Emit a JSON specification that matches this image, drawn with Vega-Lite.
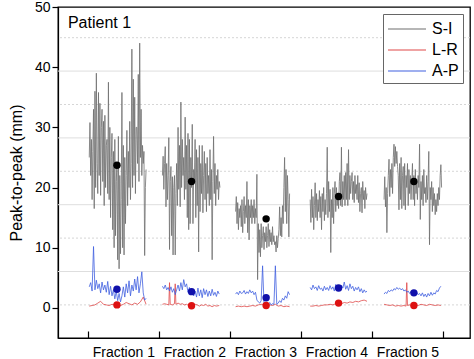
{
"$schema":"https://vega.github.io/schema/vega-lite/v6.json",
"width":412,"height":331,
"autosize":"none",
"padding":{"left":58,"top":7,"right":4,"bottom":21},
"config":{"view":{"stroke":"#000","strokeWidth":1.3},"font":"Liberation Sans",
"axis":{"domainColor":"#000","tickColor":"#000","labelColor":"#000","titleColor":"#000","grid":false,"domainWidth":1.2,"tickWidth":1.2}},
"datasets":{
"grid":[{"g":"d","y":0.5},{"g":"d","y":11.6},{"g":"d","y":22.7},{"g":"d","y":33.8},{"g":"d","y":44.9},{"g":"s","y":6.05},{"g":"s","y":17.15},{"g":"s","y":28.25},{"g":"s","y":39.35}],
"lines":[
{"k":"S-I","f":1,"x":52,"y":25},{"k":"S-I","f":1,"x":53,"y":30.8},{"k":"S-I","f":1,"x":54,"y":22},{"k":"S-I","f":1,"x":55,"y":28},{"k":"S-I","f":1,"x":56,"y":18},{"k":"S-I","f":1,"x":57,"y":26},
{"k":"S-I","f":1,"x":58,"y":33},{"k":"S-I","f":1,"x":59,"y":16.5},{"k":"S-I","f":1,"x":60,"y":36},{"k":"S-I","f":1,"x":61,"y":20},{"k":"S-I","f":1,"x":62,"y":39},{"k":"S-I","f":1,"x":63,"y":24},
{"k":"S-I","f":1,"x":64,"y":19},{"k":"S-I","f":1,"x":65,"y":35.8},{"k":"S-I","f":1,"x":66,"y":22},{"k":"S-I","f":1,"x":67,"y":34},{"k":"S-I","f":1,"x":68,"y":18.7},{"k":"S-I","f":1,"x":69,"y":30},
{"k":"S-I","f":1,"x":70,"y":33},{"k":"S-I","f":1,"x":71,"y":21},{"k":"S-I","f":1,"x":72,"y":31},{"k":"S-I","f":1,"x":73,"y":17},{"k":"S-I","f":1,"x":74,"y":32},{"k":"S-I","f":1,"x":75,"y":20},{"k":"S-I","f":1,"x":76,"y":27},
{"k":"S-I","f":1,"x":77,"y":28},{"k":"S-I","f":1,"x":78,"y":19},{"k":"S-I","f":1,"x":79,"y":37.5},{"k":"S-I","f":1,"x":80,"y":18},{"k":"S-I","f":1,"x":81,"y":30},{"k":"S-I","f":1,"x":82,"y":15},{"k":"S-I","f":1,"x":83,"y":25},
{"k":"S-I","f":1,"x":84,"y":29},{"k":"S-I","f":1,"x":85,"y":13},{"k":"S-I","f":1,"x":86,"y":26},{"k":"S-I","f":1,"x":87,"y":10},{"k":"S-I","f":1,"x":88,"y":28},{"k":"S-I","f":1,"x":89,"y":12},{"k":"S-I","f":1,"x":90,"y":21},
{"k":"S-I","f":1,"x":91,"y":24},{"k":"S-I","f":1,"x":92,"y":8},{"k":"S-I","f":1,"x":93,"y":28.5},{"k":"S-I","f":1,"x":94,"y":6.5},{"k":"S-I","f":1,"x":95,"y":22},{"k":"S-I","f":1,"x":96,"y":9},{"k":"S-I","f":1,"x":97,"y":18},
{"k":"S-I","f":1,"x":98,"y":35.8},{"k":"S-I","f":1,"x":99,"y":10},{"k":"S-I","f":1,"x":100,"y":27},{"k":"S-I","f":1,"x":101,"y":8.8},{"k":"S-I","f":1,"x":102,"y":25},{"k":"S-I","f":1,"x":103,"y":14},{"k":"S-I","f":1,"x":104,"y":22},
{"k":"S-I","f":1,"x":105,"y":29.5},{"k":"S-I","f":1,"x":106,"y":17},{"k":"S-I","f":1,"x":107,"y":26},{"k":"S-I","f":1,"x":108,"y":20},{"k":"S-I","f":1,"x":109,"y":31},{"k":"S-I","f":1,"x":110,"y":18},{"k":"S-I","f":1,"x":111,"y":24},
{"k":"S-I","f":1,"x":112,"y":43},{"k":"S-I","f":1,"x":113,"y":20},{"k":"S-I","f":1,"x":114,"y":38},{"k":"S-I","f":1,"x":115,"y":22},{"k":"S-I","f":1,"x":116,"y":35},{"k":"S-I","f":1,"x":117,"y":19},{"k":"S-I","f":1,"x":118,"y":30},
{"k":"S-I","f":1,"x":119,"y":30},{"k":"S-I","f":1,"x":120,"y":24},{"k":"S-I","f":1,"x":121,"y":38.8},{"k":"S-I","f":1,"x":122,"y":21},{"k":"S-I","f":1,"x":123,"y":44},{"k":"S-I","f":1,"x":124,"y":25},{"k":"S-I","f":1,"x":125,"y":33},{"k":"S-I","f":1,"x":126,"y":22},
{"k":"S-I","f":1,"x":127,"y":27},{"k":"S-I","f":1,"x":128,"y":24},{"k":"S-I","f":1,"x":129,"y":26},{"k":"S-I","f":1,"x":130,"y":8.7},{"k":"S-I","f":1,"x":131,"y":20},{"k":"S-I","f":1,"x":132,"y":23},
{"k":"S-I","f":2,"x":155,"y":22},{"k":"S-I","f":2,"x":156,"y":25.2},{"k":"S-I","f":2,"x":157,"y":19.7},{"k":"S-I","f":2,"x":158,"y":24},
{"k":"S-I","f":2,"x":159,"y":26.8},{"k":"S-I","f":2,"x":160,"y":16.8},{"k":"S-I","f":2,"x":161,"y":24},{"k":"S-I","f":2,"x":162,"y":18},{"k":"S-I","f":2,"x":163,"y":22},
{"k":"S-I","f":2,"x":164,"y":28.3},{"k":"S-I","f":2,"x":165,"y":9.7},{"k":"S-I","f":2,"x":166,"y":21},
{"k":"S-I","f":2,"x":167,"y":23.5},{"k":"S-I","f":2,"x":168,"y":12},{"k":"S-I","f":2,"x":169,"y":21.8},{"k":"S-I","f":2,"x":170,"y":8.8},{"k":"S-I","f":2,"x":171,"y":20},{"k":"S-I","f":2,"x":172,"y":22},{"k":"S-I","f":2,"x":173,"y":8.8},{"k":"S-I","f":2,"x":174,"y":19},
{"k":"S-I","f":2,"x":175,"y":24},{"k":"S-I","f":2,"x":176,"y":17},{"k":"S-I","f":2,"x":177,"y":30},{"k":"S-I","f":2,"x":178,"y":19.7},{"k":"S-I","f":2,"x":179,"y":27},{"k":"S-I","f":2,"x":180,"y":16.8},{"k":"S-I","f":2,"x":181,"y":34.2},{"k":"S-I","f":2,"x":182,"y":20},{"k":"S-I","f":2,"x":183,"y":28},{"k":"S-I","f":2,"x":184,"y":22},
{"k":"S-I","f":2,"x":185,"y":25},{"k":"S-I","f":2,"x":186,"y":18},{"k":"S-I","f":2,"x":187,"y":31.7},{"k":"S-I","f":2,"x":188,"y":19.7},{"k":"S-I","f":2,"x":189,"y":27},{"k":"S-I","f":2,"x":190,"y":15},{"k":"S-I","f":2,"x":191,"y":29},{"k":"S-I","f":2,"x":192,"y":13},
{"k":"S-I","f":2,"x":193,"y":28},{"k":"S-I","f":2,"x":194,"y":14},{"k":"S-I","f":2,"x":195,"y":25},{"k":"S-I","f":2,"x":196,"y":20},{"k":"S-I","f":2,"x":197,"y":30.5},{"k":"S-I","f":2,"x":198,"y":14},{"k":"S-I","f":2,"x":199,"y":23},
{"k":"S-I","f":2,"x":200,"y":21},{"k":"S-I","f":2,"x":201,"y":28},{"k":"S-I","f":2,"x":202,"y":15},{"k":"S-I","f":2,"x":203,"y":26.3},{"k":"S-I","f":2,"x":204,"y":17},{"k":"S-I","f":2,"x":205,"y":25},{"k":"S-I","f":2,"x":206,"y":9.3},
{"k":"S-I","f":2,"x":207,"y":27},{"k":"S-I","f":2,"x":208,"y":16},{"k":"S-I","f":2,"x":209,"y":24},{"k":"S-I","f":2,"x":210,"y":19},{"k":"S-I","f":2,"x":211,"y":27},{"k":"S-I","f":2,"x":212,"y":15.8},{"k":"S-I","f":2,"x":213,"y":22},
{"k":"S-I","f":2,"x":214,"y":26},{"k":"S-I","f":2,"x":215,"y":18},{"k":"S-I","f":2,"x":216,"y":24},{"k":"S-I","f":2,"x":217,"y":16},{"k":"S-I","f":2,"x":218,"y":25},{"k":"S-I","f":2,"x":219,"y":19},{"k":"S-I","f":2,"x":220,"y":22},{"k":"S-I","f":2,"x":221,"y":17},{"k":"S-I","f":2,"x":222,"y":26.3},{"k":"S-I","f":2,"x":223,"y":18},{"k":"S-I","f":2,"x":224,"y":23},{"k":"S-I","f":2,"x":225,"y":8},{"k":"S-I","f":2,"x":226,"y":21},
{"k":"S-I","f":2,"x":227,"y":28.5},{"k":"S-I","f":2,"x":228,"y":19},{"k":"S-I","f":2,"x":229,"y":24},{"k":"S-I","f":2,"x":230,"y":17},{"k":"S-I","f":2,"x":231,"y":22},{"k":"S-I","f":2,"x":232,"y":19.7},{"k":"S-I","f":2,"x":233,"y":23},{"k":"S-I","f":2,"x":234,"y":18},{"k":"S-I","f":2,"x":235,"y":21},{"k":"S-I","f":2,"x":236,"y":20},
{"k":"S-I","f":3,"x":258,"y":16},{"k":"S-I","f":3,"x":259,"y":18.5},{"k":"S-I","f":3,"x":260,"y":14},{"k":"S-I","f":3,"x":261,"y":17.5},{"k":"S-I","f":3,"x":262,"y":13},{"k":"S-I","f":3,"x":263,"y":16.5},{"k":"S-I","f":3,"x":264,"y":15},
{"k":"S-I","f":3,"x":265,"y":17},{"k":"S-I","f":3,"x":266,"y":13.5},{"k":"S-I","f":3,"x":267,"y":18},{"k":"S-I","f":3,"x":268,"y":12.5},{"k":"S-I","f":3,"x":269,"y":16},{"k":"S-I","f":3,"x":270,"y":18.5},{"k":"S-I","f":3,"x":271,"y":14},{"k":"S-I","f":3,"x":272,"y":17},
{"k":"S-I","f":3,"x":273,"y":15},{"k":"S-I","f":3,"x":274,"y":21},{"k":"S-I","f":3,"x":275,"y":12.5},{"k":"S-I","f":3,"x":276,"y":18},{"k":"S-I","f":3,"x":277,"y":11.3},{"k":"S-I","f":3,"x":278,"y":17},{"k":"S-I","f":3,"x":279,"y":15},
{"k":"S-I","f":3,"x":280,"y":18},{"k":"S-I","f":3,"x":281,"y":14},{"k":"S-I","f":3,"x":282,"y":17},{"k":"S-I","f":3,"x":283,"y":15},{"k":"S-I","f":3,"x":284,"y":18},{"k":"S-I","f":3,"x":285,"y":14},{"k":"S-I","f":3,"x":286,"y":16.5},{"k":"S-I","f":3,"x":287,"y":15},
{"k":"S-I","f":3,"x":288,"y":22.2},{"k":"S-I","f":3,"x":289,"y":4.7},
{"k":"S-I","f":3,"x":290,"y":14},{"k":"S-I","f":3,"x":291,"y":9.2},{"k":"S-I","f":3,"x":292,"y":13},{"k":"S-I","f":3,"x":293,"y":8.5},{"k":"S-I","f":3,"x":294,"y":14},{"k":"S-I","f":3,"x":295,"y":10},{"k":"S-I","f":3,"x":296,"y":12},
{"k":"S-I","f":3,"x":297,"y":13.5},{"k":"S-I","f":3,"x":298,"y":9.7},{"k":"S-I","f":3,"x":299,"y":12.5},{"k":"S-I","f":3,"x":300,"y":11},{"k":"S-I","f":3,"x":301,"y":13.5},{"k":"S-I","f":3,"x":302,"y":10},{"k":"S-I","f":3,"x":303,"y":12},
{"k":"S-I","f":3,"x":304,"y":14},{"k":"S-I","f":3,"x":305,"y":10.2},{"k":"S-I","f":3,"x":306,"y":13},{"k":"S-I","f":3,"x":307,"y":11},{"k":"S-I","f":3,"x":308,"y":12.5},{"k":"S-I","f":3,"x":309,"y":10.5},{"k":"S-I","f":3,"x":310,"y":13.5},{"k":"S-I","f":3,"x":311,"y":11},{"k":"S-I","f":3,"x":312,"y":12},{"k":"S-I","f":3,"x":313,"y":10.5},
{"k":"S-I","f":3,"x":314,"y":11},{"k":"S-I","f":3,"x":315,"y":9.3},{"k":"S-I","f":3,"x":316,"y":12},{"k":"S-I","f":3,"x":317,"y":10},{"k":"S-I","f":3,"x":318,"y":11.5},
{"k":"S-I","f":3,"x":319,"y":13},{"k":"S-I","f":3,"x":320,"y":16.8},{"k":"S-I","f":3,"x":321,"y":12},{"k":"S-I","f":3,"x":322,"y":15},{"k":"S-I","f":3,"x":323,"y":11.8},{"k":"S-I","f":3,"x":324,"y":17},{"k":"S-I","f":3,"x":325,"y":14},
{"k":"S-I","f":3,"x":326,"y":20},{"k":"S-I","f":3,"x":327,"y":25},{"k":"S-I","f":3,"x":328,"y":16},{"k":"S-I","f":3,"x":329,"y":23},{"k":"S-I","f":3,"x":330,"y":14},{"k":"S-I","f":3,"x":331,"y":22},{"k":"S-I","f":3,"x":332,"y":18},{"k":"S-I","f":3,"x":333,"y":11.8},{"k":"S-I","f":3,"x":334,"y":19},
{"k":"S-I","f":4,"x":363,"y":18},{"k":"S-I","f":4,"x":364,"y":14.2},{"k":"S-I","f":4,"x":365,"y":19.7},{"k":"S-I","f":4,"x":366,"y":15},{"k":"S-I","f":4,"x":367,"y":18.5},{"k":"S-I","f":4,"x":368,"y":13},{"k":"S-I","f":4,"x":369,"y":17},
{"k":"S-I","f":4,"x":370,"y":20.8},{"k":"S-I","f":4,"x":371,"y":15},{"k":"S-I","f":4,"x":372,"y":19},{"k":"S-I","f":4,"x":373,"y":14.5},{"k":"S-I","f":4,"x":374,"y":18},{"k":"S-I","f":4,"x":375,"y":16},{"k":"S-I","f":4,"x":376,"y":19.5},
{"k":"S-I","f":4,"x":377,"y":15},{"k":"S-I","f":4,"x":378,"y":18.5},{"k":"S-I","f":4,"x":379,"y":13},{"k":"S-I","f":4,"x":380,"y":19},{"k":"S-I","f":4,"x":381,"y":16},{"k":"S-I","f":4,"x":382,"y":20},{"k":"S-I","f":4,"x":383,"y":14.5},{"k":"S-I","f":4,"x":384,"y":18},{"k":"S-I","f":4,"x":385,"y":15.5},{"k":"S-I","f":4,"x":386,"y":19},
{"k":"S-I","f":4,"x":387,"y":26.7},{"k":"S-I","f":4,"x":388,"y":15},{"k":"S-I","f":4,"x":389,"y":21},{"k":"S-I","f":4,"x":390,"y":16},
{"k":"S-I","f":4,"x":391,"y":19.7},{"k":"S-I","f":4,"x":392,"y":9.2},{"k":"S-I","f":4,"x":393,"y":18},{"k":"S-I","f":4,"x":394,"y":15},{"k":"S-I","f":4,"x":395,"y":20},{"k":"S-I","f":4,"x":396,"y":14},{"k":"S-I","f":4,"x":397,"y":19},
{"k":"S-I","f":4,"x":398,"y":21},{"k":"S-I","f":4,"x":399,"y":16},{"k":"S-I","f":4,"x":400,"y":20},{"k":"S-I","f":4,"x":401,"y":17},{"k":"S-I","f":4,"x":402,"y":19},{"k":"S-I","f":4,"x":403,"y":16.5},{"k":"S-I","f":4,"x":404,"y":21},
{"k":"S-I","f":4,"x":405,"y":22.5},{"k":"S-I","f":4,"x":406,"y":17},{"k":"S-I","f":4,"x":407,"y":26.7},{"k":"S-I","f":4,"x":408,"y":16.8},{"k":"S-I","f":4,"x":409,"y":21},{"k":"S-I","f":4,"x":410,"y":18},{"k":"S-I","f":4,"x":411,"y":22},{"k":"S-I","f":4,"x":412,"y":17},
{"k":"S-I","f":4,"x":413,"y":22.5},{"k":"S-I","f":4,"x":414,"y":18},{"k":"S-I","f":4,"x":415,"y":24},{"k":"S-I","f":4,"x":416,"y":17},{"k":"S-I","f":4,"x":417,"y":26.3},{"k":"S-I","f":4,"x":418,"y":18},{"k":"S-I","f":4,"x":419,"y":22},{"k":"S-I","f":4,"x":420,"y":19},{"k":"S-I","f":4,"x":421,"y":21},
{"k":"S-I","f":4,"x":422,"y":22.5},{"k":"S-I","f":4,"x":423,"y":18},{"k":"S-I","f":4,"x":424,"y":21},{"k":"S-I","f":4,"x":425,"y":17.5},{"k":"S-I","f":4,"x":426,"y":22},{"k":"S-I","f":4,"x":427,"y":19},{"k":"S-I","f":4,"x":428,"y":20.5},{"k":"S-I","f":4,"x":429,"y":18},{"k":"S-I","f":4,"x":430,"y":22},{"k":"S-I","f":4,"x":431,"y":17.5},
{"k":"S-I","f":4,"x":432,"y":20.8},{"k":"S-I","f":4,"x":433,"y":16},{"k":"S-I","f":4,"x":434,"y":19},{"k":"S-I","f":4,"x":435,"y":20},{"k":"S-I","f":4,"x":436,"y":15.8},{"k":"S-I","f":4,"x":437,"y":21},{"k":"S-I","f":4,"x":438,"y":18},{"k":"S-I","f":4,"x":439,"y":19.5},{"k":"S-I","f":4,"x":440,"y":16.5},{"k":"S-I","f":4,"x":441,"y":20},{"k":"S-I","f":4,"x":442,"y":18},{"k":"S-I","f":4,"x":443,"y":19},
{"k":"S-I","f":5,"x":467,"y":18},{"k":"S-I","f":5,"x":468,"y":21.8},{"k":"S-I","f":5,"x":469,"y":16.8},{"k":"S-I","f":5,"x":470,"y":20},{"k":"S-I","f":5,"x":471,"y":12.5},{"k":"S-I","f":5,"x":472,"y":19},
{"k":"S-I","f":5,"x":473,"y":22},{"k":"S-I","f":5,"x":474,"y":24.7},{"k":"S-I","f":5,"x":475,"y":18.5},{"k":"S-I","f":5,"x":476,"y":23},{"k":"S-I","f":5,"x":477,"y":20},{"k":"S-I","f":5,"x":478,"y":24},{"k":"S-I","f":5,"x":479,"y":19},
{"k":"S-I","f":5,"x":480,"y":25},{"k":"S-I","f":5,"x":481,"y":27.2},{"k":"S-I","f":5,"x":482,"y":23.5},{"k":"S-I","f":5,"x":483,"y":26.8},{"k":"S-I","f":5,"x":484,"y":24},{"k":"S-I","f":5,"x":485,"y":26},{"k":"S-I","f":5,"x":486,"y":23.5},
{"k":"S-I","f":5,"x":487,"y":22},{"k":"S-I","f":5,"x":488,"y":16.3},{"k":"S-I","f":5,"x":489,"y":24},{"k":"S-I","f":5,"x":490,"y":18},{"k":"S-I","f":5,"x":491,"y":25},{"k":"S-I","f":5,"x":492,"y":16.5},{"k":"S-I","f":5,"x":493,"y":22},
{"k":"S-I","f":5,"x":494,"y":23.5},{"k":"S-I","f":5,"x":495,"y":17},{"k":"S-I","f":5,"x":496,"y":24},{"k":"S-I","f":5,"x":497,"y":16.3},{"k":"S-I","f":5,"x":498,"y":22},{"k":"S-I","f":5,"x":499,"y":20},{"k":"S-I","f":5,"x":500,"y":24},{"k":"S-I","f":5,"x":501,"y":17},{"k":"S-I","f":5,"x":502,"y":23},{"k":"S-I","f":5,"x":503,"y":19},{"k":"S-I","f":5,"x":504,"y":22},{"k":"S-I","f":5,"x":505,"y":18},
{"k":"S-I","f":5,"x":506,"y":21},{"k":"S-I","f":5,"x":507,"y":24},{"k":"S-I","f":5,"x":508,"y":18},{"k":"S-I","f":5,"x":509,"y":22},{"k":"S-I","f":5,"x":510,"y":17},{"k":"S-I","f":5,"x":511,"y":23},{"k":"S-I","f":5,"x":512,"y":19},{"k":"S-I","f":5,"x":513,"y":21},{"k":"S-I","f":5,"x":514,"y":18},{"k":"S-I","f":5,"x":515,"y":22},{"k":"S-I","f":5,"x":516,"y":20},
{"k":"S-I","f":5,"x":517,"y":27.2},{"k":"S-I","f":5,"x":518,"y":14.7},
{"k":"S-I","f":5,"x":519,"y":21},{"k":"S-I","f":5,"x":520,"y":18},{"k":"S-I","f":5,"x":521,"y":22},{"k":"S-I","f":5,"x":522,"y":17},{"k":"S-I","f":5,"x":523,"y":23},{"k":"S-I","f":5,"x":524,"y":19},{"k":"S-I","f":5,"x":525,"y":20},{"k":"S-I","f":5,"x":526,"y":17.5},{"k":"S-I","f":5,"x":527,"y":22},{"k":"S-I","f":5,"x":528,"y":18},{"k":"S-I","f":5,"x":529,"y":21},
{"k":"S-I","f":5,"x":530,"y":26},{"k":"S-I","f":5,"x":531,"y":10.5},{"k":"S-I","f":5,"x":532,"y":20},
{"k":"S-I","f":5,"x":533,"y":18},{"k":"S-I","f":5,"x":534,"y":21},{"k":"S-I","f":5,"x":535,"y":16},{"k":"S-I","f":5,"x":536,"y":20},{"k":"S-I","f":5,"x":537,"y":17},{"k":"S-I","f":5,"x":538,"y":19},{"k":"S-I","f":5,"x":539,"y":15.5},{"k":"S-I","f":5,"x":540,"y":18},{"k":"S-I","f":5,"x":541,"y":16},{"k":"S-I","f":5,"x":542,"y":19},{"k":"S-I","f":5,"x":543,"y":17},{"k":"S-I","f":5,"x":544,"y":20},{"k":"S-I","f":5,"x":545,"y":18},{"k":"S-I","f":5,"x":546,"y":22},{"k":"S-I","f":5,"x":547,"y":23.8},{"k":"S-I","f":5,"x":548,"y":20},
{"k":"L-R","f":1,"x":52,"y":0.3},{"k":"L-R","f":1,"x":56,"y":0.4},{"k":"L-R","f":1,"x":60,"y":0.5},{"k":"L-R","f":1,"x":64,"y":0.8},{"k":"L-R","f":1,"x":68,"y":1.1},{"k":"L-R","f":1,"x":72,"y":0.6},{"k":"L-R","f":1,"x":76,"y":0.5},{"k":"L-R","f":1,"x":80,"y":0.4},{"k":"L-R","f":1,"x":84,"y":0.6},{"k":"L-R","f":1,"x":88,"y":0.5},{"k":"L-R","f":1,"x":92,"y":0.7},{"k":"L-R","f":1,"x":96,"y":0.4},{"k":"L-R","f":1,"x":100,"y":0.6},{"k":"L-R","f":1,"x":104,"y":0.9},{"k":"L-R","f":1,"x":108,"y":0.7},{"k":"L-R","f":1,"x":112,"y":0.5},{"k":"L-R","f":1,"x":116,"y":0.8},{"k":"L-R","f":1,"x":120,"y":0.6},{"k":"L-R","f":1,"x":124,"y":1.0},{"k":"L-R","f":1,"x":128,"y":1.8},{"k":"L-R","f":1,"x":132,"y":0.6},
{"k":"L-R","f":2,"x":155,"y":0.6},{"k":"L-R","f":2,"x":158,"y":0.7},{"k":"L-R","f":2,"x":161,"y":0.6},{"k":"L-R","f":2,"x":164,"y":0.5},{"k":"L-R","f":2,"x":165,"y":4.2},{"k":"L-R","f":2,"x":166,"y":0.6},{"k":"L-R","f":2,"x":169,"y":0.5},{"k":"L-R","f":2,"x":172,"y":0.7},{"k":"L-R","f":2,"x":173,"y":4.0},{"k":"L-R","f":2,"x":174,"y":0.6},{"k":"L-R","f":2,"x":177,"y":0.8},{"k":"L-R","f":2,"x":180,"y":0.6},{"k":"L-R","f":2,"x":183,"y":0.7},{"k":"L-R","f":2,"x":186,"y":0.5},{"k":"L-R","f":2,"x":189,"y":0.6},{"k":"L-R","f":2,"x":192,"y":0.4},{"k":"L-R","f":2,"x":195,"y":0.5},{"k":"L-R","f":2,"x":198,"y":0.4},{"k":"L-R","f":2,"x":201,"y":0.6},{"k":"L-R","f":2,"x":204,"y":0.5},{"k":"L-R","f":2,"x":207,"y":0.3},{"k":"L-R","f":2,"x":210,"y":0.5},{"k":"L-R","f":2,"x":213,"y":0.4},{"k":"L-R","f":2,"x":216,"y":0.6},{"k":"L-R","f":2,"x":219,"y":0.3},{"k":"L-R","f":2,"x":222,"y":0.4},{"k":"L-R","f":2,"x":225,"y":0.2},{"k":"L-R","f":2,"x":228,"y":0.4},{"k":"L-R","f":2,"x":231,"y":0.3},{"k":"L-R","f":2,"x":235,"y":0.4},
{"k":"L-R","f":3,"x":258,"y":0.2},{"k":"L-R","f":3,"x":262,"y":0.3},{"k":"L-R","f":3,"x":266,"y":0.2},{"k":"L-R","f":3,"x":270,"y":0.3},{"k":"L-R","f":3,"x":274,"y":0.2},{"k":"L-R","f":3,"x":278,"y":0.3},{"k":"L-R","f":3,"x":282,"y":0.4},{"k":"L-R","f":3,"x":286,"y":0.3},{"k":"L-R","f":3,"x":290,"y":0.5},{"k":"L-R","f":3,"x":294,"y":0.6},{"k":"L-R","f":3,"x":298,"y":0.5},{"k":"L-R","f":3,"x":302,"y":0.7},{"k":"L-R","f":3,"x":306,"y":0.5},{"k":"L-R","f":3,"x":310,"y":0.4},{"k":"L-R","f":3,"x":314,"y":0.6},{"k":"L-R","f":3,"x":318,"y":0.3},{"k":"L-R","f":3,"x":322,"y":0.4},{"k":"L-R","f":3,"x":326,"y":0.2},{"k":"L-R","f":3,"x":330,"y":0.3},{"k":"L-R","f":3,"x":334,"y":0.2},
{"k":"L-R","f":4,"x":363,"y":0.3},{"k":"L-R","f":4,"x":367,"y":0.3},{"k":"L-R","f":4,"x":371,"y":0.4},{"k":"L-R","f":4,"x":375,"y":0.3},{"k":"L-R","f":4,"x":379,"y":0.4},{"k":"L-R","f":4,"x":383,"y":0.5},{"k":"L-R","f":4,"x":387,"y":0.5},{"k":"L-R","f":4,"x":391,"y":0.6},{"k":"L-R","f":4,"x":395,"y":0.5},{"k":"L-R","f":4,"x":399,"y":0.7},{"k":"L-R","f":4,"x":403,"y":0.8},{"k":"L-R","f":4,"x":407,"y":0.7},{"k":"L-R","f":4,"x":411,"y":0.9},{"k":"L-R","f":4,"x":415,"y":0.8},{"k":"L-R","f":4,"x":419,"y":1.0},{"k":"L-R","f":4,"x":423,"y":0.9},{"k":"L-R","f":4,"x":427,"y":1.1},{"k":"L-R","f":4,"x":431,"y":1.0},{"k":"L-R","f":4,"x":435,"y":1.2},{"k":"L-R","f":4,"x":439,"y":1.3},{"k":"L-R","f":4,"x":443,"y":1.1},
{"k":"L-R","f":5,"x":467,"y":0.6},{"k":"L-R","f":5,"x":471,"y":0.5},{"k":"L-R","f":5,"x":475,"y":0.4},{"k":"L-R","f":5,"x":479,"y":0.5},{"k":"L-R","f":5,"x":483,"y":0.3},{"k":"L-R","f":5,"x":487,"y":0.4},{"k":"L-R","f":5,"x":491,"y":0.3},{"k":"L-R","f":5,"x":495,"y":0.4},{"k":"L-R","f":5,"x":498,"y":0.3},{"k":"L-R","f":5,"x":499,"y":4.2},{"k":"L-R","f":5,"x":500,"y":0.4},{"k":"L-R","f":5,"x":503,"y":0.5},{"k":"L-R","f":5,"x":507,"y":0.4},{"k":"L-R","f":5,"x":511,"y":0.5},{"k":"L-R","f":5,"x":515,"y":0.4},{"k":"L-R","f":5,"x":519,"y":0.6},{"k":"L-R","f":5,"x":523,"y":0.5},{"k":"L-R","f":5,"x":527,"y":0.4},{"k":"L-R","f":5,"x":531,"y":0.6},{"k":"L-R","f":5,"x":535,"y":0.5},{"k":"L-R","f":5,"x":539,"y":0.4},{"k":"L-R","f":5,"x":543,"y":0.5},{"k":"L-R","f":5,"x":547,"y":0.4},
{"k":"A-P","f":1,"x":52,"y":3.5},{"k":"A-P","f":1,"x":54,"y":4.2},{"k":"A-P","f":1,"x":56,"y":2.8},{"k":"A-P","f":1,"x":58,"y":10.2},{"k":"A-P","f":1,"x":60,"y":3.0},{"k":"A-P","f":1,"x":62,"y":4.6},{"k":"A-P","f":1,"x":64,"y":3.2},{"k":"A-P","f":1,"x":66,"y":4.0},{"k":"A-P","f":1,"x":68,"y":2.5},{"k":"A-P","f":1,"x":70,"y":4.3},{"k":"A-P","f":1,"x":72,"y":3.0},{"k":"A-P","f":1,"x":74,"y":3.8},{"k":"A-P","f":1,"x":76,"y":2.6},{"k":"A-P","f":1,"x":78,"y":4.4},{"k":"A-P","f":1,"x":80,"y":2.2},{"k":"A-P","f":1,"x":82,"y":3.6},{"k":"A-P","f":1,"x":84,"y":2.0},{"k":"A-P","f":1,"x":86,"y":3.0},{"k":"A-P","f":1,"x":88,"y":1.5},{"k":"A-P","f":1,"x":90,"y":2.8},{"k":"A-P","f":1,"x":92,"y":1.2},{"k":"A-P","f":1,"x":94,"y":2.4},{"k":"A-P","f":1,"x":96,"y":1.0},{"k":"A-P","f":1,"x":98,"y":2.0},{"k":"A-P","f":1,"x":100,"y":3.5},{"k":"A-P","f":1,"x":102,"y":1.8},{"k":"A-P","f":1,"x":104,"y":4.0},{"k":"A-P","f":1,"x":106,"y":2.5},{"k":"A-P","f":1,"x":108,"y":4.5},{"k":"A-P","f":1,"x":110,"y":2.0},{"k":"A-P","f":1,"x":112,"y":3.8},{"k":"A-P","f":1,"x":114,"y":2.8},{"k":"A-P","f":1,"x":116,"y":4.8},{"k":"A-P","f":1,"x":118,"y":3.0},{"k":"A-P","f":1,"x":120,"y":5.2},{"k":"A-P","f":1,"x":122,"y":2.5},{"k":"A-P","f":1,"x":124,"y":4.0},{"k":"A-P","f":1,"x":126,"y":6.0},{"k":"A-P","f":1,"x":128,"y":2.5},{"k":"A-P","f":1,"x":130,"y":1.3},{"k":"A-P","f":1,"x":132,"y":1.6},
{"k":"A-P","f":2,"x":155,"y":3.6},{"k":"A-P","f":2,"x":157,"y":3.2},{"k":"A-P","f":2,"x":159,"y":3.8},{"k":"A-P","f":2,"x":161,"y":3.0},{"k":"A-P","f":2,"x":163,"y":3.4},{"k":"A-P","f":2,"x":165,"y":2.8},{"k":"A-P","f":2,"x":167,"y":3.5},{"k":"A-P","f":2,"x":169,"y":2.6},{"k":"A-P","f":2,"x":171,"y":3.2},{"k":"A-P","f":2,"x":173,"y":2.2},{"k":"A-P","f":2,"x":175,"y":3.0},{"k":"A-P","f":2,"x":177,"y":3.8},{"k":"A-P","f":2,"x":179,"y":2.8},{"k":"A-P","f":2,"x":181,"y":4.2},{"k":"A-P","f":2,"x":183,"y":3.0},{"k":"A-P","f":2,"x":185,"y":4.7},{"k":"A-P","f":2,"x":187,"y":3.5},{"k":"A-P","f":2,"x":189,"y":4.0},{"k":"A-P","f":2,"x":191,"y":2.6},{"k":"A-P","f":2,"x":193,"y":3.4},{"k":"A-P","f":2,"x":195,"y":2.4},{"k":"A-P","f":2,"x":197,"y":3.0},{"k":"A-P","f":2,"x":199,"y":2.0},{"k":"A-P","f":2,"x":201,"y":2.8},{"k":"A-P","f":2,"x":203,"y":1.8},{"k":"A-P","f":2,"x":205,"y":3.3},{"k":"A-P","f":2,"x":207,"y":2.0},{"k":"A-P","f":2,"x":209,"y":3.0},{"k":"A-P","f":2,"x":211,"y":1.7},{"k":"A-P","f":2,"x":213,"y":3.2},{"k":"A-P","f":2,"x":215,"y":2.2},{"k":"A-P","f":2,"x":217,"y":3.0},{"k":"A-P","f":2,"x":219,"y":1.9},{"k":"A-P","f":2,"x":221,"y":2.8},{"k":"A-P","f":2,"x":223,"y":2.0},{"k":"A-P","f":2,"x":225,"y":3.1},{"k":"A-P","f":2,"x":227,"y":2.1},{"k":"A-P","f":2,"x":229,"y":2.6},{"k":"A-P","f":2,"x":231,"y":1.9},{"k":"A-P","f":2,"x":233,"y":2.8},{"k":"A-P","f":2,"x":235,"y":2.3},
{"k":"A-P","f":3,"x":258,"y":2.3},{"k":"A-P","f":3,"x":260,"y":2.6},{"k":"A-P","f":3,"x":262,"y":2.2},{"k":"A-P","f":3,"x":264,"y":2.8},{"k":"A-P","f":3,"x":266,"y":2.4},{"k":"A-P","f":3,"x":268,"y":2.5},{"k":"A-P","f":3,"x":270,"y":2.9},{"k":"A-P","f":3,"x":272,"y":2.3},{"k":"A-P","f":3,"x":274,"y":2.7},{"k":"A-P","f":3,"x":276,"y":2.4},{"k":"A-P","f":3,"x":278,"y":3.0},{"k":"A-P","f":3,"x":280,"y":2.5},{"k":"A-P","f":3,"x":282,"y":2.8},{"k":"A-P","f":3,"x":284,"y":2.2},{"k":"A-P","f":3,"x":286,"y":2.6},{"k":"A-P","f":3,"x":288,"y":1.3},{"k":"A-P","f":3,"x":290,"y":1.0},{"k":"A-P","f":3,"x":292,"y":0.8},{"k":"A-P","f":3,"x":294,"y":1.2},{"k":"A-P","f":3,"x":296,"y":7.0},{"k":"A-P","f":3,"x":298,"y":0.7},{"k":"A-P","f":3,"x":300,"y":0.5},{"k":"A-P","f":3,"x":302,"y":0.8},{"k":"A-P","f":3,"x":304,"y":0.6},{"k":"A-P","f":3,"x":306,"y":0.9},{"k":"A-P","f":3,"x":308,"y":0.5},{"k":"A-P","f":3,"x":310,"y":0.7},{"k":"A-P","f":3,"x":312,"y":0.6},{"k":"A-P","f":3,"x":314,"y":7.0},{"k":"A-P","f":3,"x":316,"y":0.6},{"k":"A-P","f":3,"x":318,"y":0.8},{"k":"A-P","f":3,"x":320,"y":1.2},{"k":"A-P","f":3,"x":322,"y":0.9},{"k":"A-P","f":3,"x":324,"y":1.6},{"k":"A-P","f":3,"x":326,"y":1.3},{"k":"A-P","f":3,"x":328,"y":2.0},{"k":"A-P","f":3,"x":330,"y":1.6},{"k":"A-P","f":3,"x":332,"y":2.7},{"k":"A-P","f":3,"x":334,"y":2.2},
{"k":"A-P","f":4,"x":363,"y":3.4},{"k":"A-P","f":4,"x":365,"y":3.0},{"k":"A-P","f":4,"x":367,"y":3.8},{"k":"A-P","f":4,"x":369,"y":3.2},{"k":"A-P","f":4,"x":371,"y":3.5},{"k":"A-P","f":4,"x":373,"y":2.9},{"k":"A-P","f":4,"x":375,"y":3.7},{"k":"A-P","f":4,"x":377,"y":3.1},{"k":"A-P","f":4,"x":379,"y":3.3},{"k":"A-P","f":4,"x":381,"y":2.8},{"k":"A-P","f":4,"x":383,"y":3.6},{"k":"A-P","f":4,"x":385,"y":3.0},{"k":"A-P","f":4,"x":387,"y":3.4},{"k":"A-P","f":4,"x":389,"y":2.9},{"k":"A-P","f":4,"x":391,"y":3.7},{"k":"A-P","f":4,"x":393,"y":3.1},{"k":"A-P","f":4,"x":395,"y":3.5},{"k":"A-P","f":4,"x":397,"y":2.8},{"k":"A-P","f":4,"x":399,"y":3.9},{"k":"A-P","f":4,"x":401,"y":3.2},{"k":"A-P","f":4,"x":403,"y":3.6},{"k":"A-P","f":4,"x":405,"y":3.0},{"k":"A-P","f":4,"x":407,"y":3.8},{"k":"A-P","f":4,"x":409,"y":3.3},{"k":"A-P","f":4,"x":411,"y":4.3},{"k":"A-P","f":4,"x":413,"y":3.1},{"k":"A-P","f":4,"x":415,"y":3.7},{"k":"A-P","f":4,"x":417,"y":2.9},{"k":"A-P","f":4,"x":419,"y":4.0},{"k":"A-P","f":4,"x":421,"y":3.2},{"k":"A-P","f":4,"x":423,"y":3.6},{"k":"A-P","f":4,"x":425,"y":2.8},{"k":"A-P","f":4,"x":427,"y":3.4},{"k":"A-P","f":4,"x":429,"y":3.0},{"k":"A-P","f":4,"x":431,"y":3.5},{"k":"A-P","f":4,"x":433,"y":2.7},{"k":"A-P","f":4,"x":435,"y":3.2},{"k":"A-P","f":4,"x":437,"y":2.5},{"k":"A-P","f":4,"x":439,"y":3.0},{"k":"A-P","f":4,"x":441,"y":2.6},{"k":"A-P","f":4,"x":443,"y":2.8},
{"k":"A-P","f":5,"x":467,"y":2.3},{"k":"A-P","f":5,"x":469,"y":2.6},{"k":"A-P","f":5,"x":471,"y":2.4},{"k":"A-P","f":5,"x":473,"y":2.9},{"k":"A-P","f":5,"x":475,"y":2.7},{"k":"A-P","f":5,"x":477,"y":3.0},{"k":"A-P","f":5,"x":479,"y":2.8},{"k":"A-P","f":5,"x":481,"y":3.2},{"k":"A-P","f":5,"x":483,"y":3.0},{"k":"A-P","f":5,"x":485,"y":3.4},{"k":"A-P","f":5,"x":487,"y":3.1},{"k":"A-P","f":5,"x":489,"y":3.3},{"k":"A-P","f":5,"x":491,"y":3.0},{"k":"A-P","f":5,"x":493,"y":3.2},{"k":"A-P","f":5,"x":495,"y":2.8},{"k":"A-P","f":5,"x":497,"y":3.0},{"k":"A-P","f":5,"x":499,"y":2.6},{"k":"A-P","f":5,"x":501,"y":2.8},{"k":"A-P","f":5,"x":503,"y":2.4},{"k":"A-P","f":5,"x":505,"y":2.7},{"k":"A-P","f":5,"x":507,"y":2.3},{"k":"A-P","f":5,"x":509,"y":2.5},{"k":"A-P","f":5,"x":511,"y":2.1},{"k":"A-P","f":5,"x":513,"y":2.6},{"k":"A-P","f":5,"x":515,"y":2.2},{"k":"A-P","f":5,"x":517,"y":2.4},{"k":"A-P","f":5,"x":519,"y":2.0},{"k":"A-P","f":5,"x":521,"y":2.5},{"k":"A-P","f":5,"x":523,"y":1.9},{"k":"A-P","f":5,"x":525,"y":2.3},{"k":"A-P","f":5,"x":527,"y":1.8},{"k":"A-P","f":5,"x":529,"y":2.4},{"k":"A-P","f":5,"x":531,"y":2.0},{"k":"A-P","f":5,"x":533,"y":2.6},{"k":"A-P","f":5,"x":535,"y":2.1},{"k":"A-P","f":5,"x":537,"y":2.5},{"k":"A-P","f":5,"x":539,"y":2.3},{"k":"A-P","f":5,"x":541,"y":2.9},{"k":"A-P","f":5,"x":543,"y":2.7},{"k":"A-P","f":5,"x":545,"y":3.3},{"k":"A-P","f":5,"x":547,"y":3.6}
],
"means":[
{"k":"S-I","x":91,"y":23.7},{"k":"S-I","x":196,"y":21},{"k":"S-I","x":301,"y":14.8},{"k":"S-I","x":403,"y":18.5},{"k":"S-I","x":509,"y":21},
{"k":"A-P","x":91,"y":3.1},{"k":"A-P","x":196,"y":2.7},{"k":"A-P","x":301,"y":1.7},{"k":"A-P","x":403,"y":3.3},{"k":"A-P","x":509,"y":2.5},
{"k":"L-R","x":91,"y":0.5},{"k":"L-R","x":196,"y":0.35},{"k":"L-R","x":301,"y":0.4},{"k":"L-R","x":403,"y":0.8},{"k":"L-R","x":509,"y":0.4}
],
"label":[{"t":"Patient 1"}]
},
"layer":[
{"data":{"name":"grid"},"transform":[{"filter":"datum.g == 's'"}],"mark":{"type":"rule","color":"#dedede","strokeWidth":1},
 "encoding":{"y":{"field":"y","type":"quantitative"}}},
{"data":{"name":"grid"},"transform":[{"filter":"datum.g == 'd'"}],"mark":{"type":"rule","color":"#d6d6d6","strokeWidth":1,"strokeDash":[2,2]},
 "encoding":{"y":{"field":"y","type":"quantitative"}}},
{"data":{"name":"lines"},"mark":{"type":"line","strokeWidth":0.8},
 "encoding":{"x":{"field":"x","type":"quantitative","scale":{"domain":[8,588],"nice":false,"zero":false},
 "axis":{"values":[50,100,150,200,250,300,350,400,450,500,550],"labelExpr":"datum.value % 100 == 0 ? 'Fraction ' + (datum.value/100) : ''",
 "tickOpacity":{"condition":{"test":"datum.value % 100 == 0","value":0},"value":1},"tickSize":-7,"labelPadding":14,"labelFontSize":14,"title":null,"labelOverlap":false,"labelFlush":false}},
 "y":{"field":"y","type":"quantitative","scale":{"domain":[-5,50],"nice":false,"zero":false},
 "axis":{"values":[0,10,20,30,40,50],"labelOverlap":false,"labelFlush":false,
 "tickSize":6,"labelFontSize":14,"labelPadding":2,
 "title":"Peak-to-peak (mm)","titleFontSize":16,"titleFontWeight":"normal","titlePadding":10}},
 "detail":{"field":"f"},
 "color":{"field":"k","type":"nominal","scale":{"domain":["S-I","L-R","A-P"],"range":["#6e6e6e","#e04848","#4060e0"]},
 "legend":{"title":null,"orient":"top-right","offset":7,"padding":4,"strokeColor":"#666","fillColor":"#fff","symbolType":"M-1.9,0H1.9","symbolSize":400,"symbolOffset":9,"symbolStrokeWidth":1.2,"labelFontSize":16,"rowPadding":2,"labelOffset":14}}}},
{"data":{"name":"means"},"mark":{"type":"circle","size":55,"opacity":1},
 "encoding":{"x":{"field":"x","type":"quantitative"},"y":{"field":"y","type":"quantitative"},
 "fill":{"field":"k","type":"nominal","scale":{"domain":["S-I","L-R","A-P"],"range":["#000000","#dd1111","#1010aa"]},"legend":null}}},
{"data":{"name":"label"},"mark":{"type":"text","align":"left","baseline":"middle","fontSize":16,"color":"#000"},
 "encoding":{"x":{"datum":22},"y":{"datum":47.3},"text":{"field":"t"}}}
]
}
